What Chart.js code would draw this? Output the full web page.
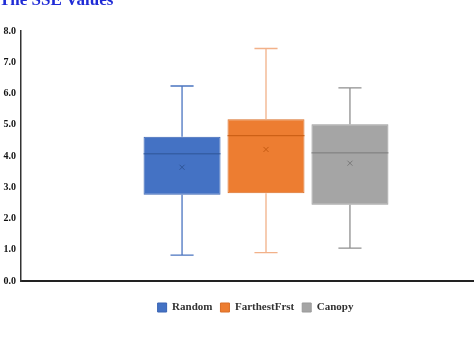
<!DOCTYPE html>
<html>
<head>
<meta charset="utf-8">
<script src="https://cdn.jsdelivr.net/npm/chart.js@4/dist/chart.umd.min.js"></script>
<style>
  html, body { margin:0; padding:0; background:#fff; overflow:hidden; width:474px; height:339px; }
  #wrap { position:absolute; left:0; top:0; width:519px; height:339px; }
  #title { position:absolute; left:-1px; top:-9px; font:bold 17px 'Liberation Serif', serif; color:#1f2bd6; line-height:17px; white-space:nowrap; }
</style>
</head>
<body>
<div id="wrap"><canvas id="chart"></canvas></div>
<div id="title">The SSE Values</div>
<script>
// box plot values
const categories = ['Random', 'FarthestFrst', 'Canopy'];
const mins    = [0.83, 0.91, 1.05];
const q1s     = [2.76, 2.81, 2.44];
const medians = [4.07, 4.65, 4.10];
const q3s     = [4.62, 5.18, 5.02];
const maxs    = [6.24, 7.44, 6.18];
const means   = [3.64, 4.21, 3.77];

const fills    = ['#4472c4', '#ed7d31', '#a5a5a5'];
const borders  = ['#3a64b4', '#d96f28', '#999999'];
const whiskers = ['#4a74c0', '#f2b189', '#8f8f8f'];
const medCols  = ['#2f5597', '#c55a11', '#7a7a7a'];

// whiskers, medians and mean markers
const boxPlugin = {
  id: 'boxParts',
  afterDatasetsDraw(chart){
    const ctx = chart.ctx;
    const y = chart.scales.y;
    chart.data.datasets.forEach((ds, i)=>{
      const bar = chart.getDatasetMeta(i).data[0];
      if(!bar) return;
      const x = bar.x, w = bar.width;
      const cap = w * 0.15;
      ctx.save();
      ctx.lineWidth = 1.3;
      ctx.strokeStyle = whiskers[i];
      ctx.beginPath();
      ctx.moveTo(x, y.getPixelForValue(q3s[i])); ctx.lineTo(x, y.getPixelForValue(maxs[i]));
      ctx.moveTo(x, y.getPixelForValue(q1s[i])); ctx.lineTo(x, y.getPixelForValue(mins[i]));
      ctx.moveTo(x - cap, y.getPixelForValue(maxs[i])); ctx.lineTo(x + cap, y.getPixelForValue(maxs[i]));
      ctx.moveTo(x - cap, y.getPixelForValue(mins[i])); ctx.lineTo(x + cap, y.getPixelForValue(mins[i]));
      ctx.stroke();
      ctx.strokeStyle = medCols[i];
      ctx.lineWidth = 1;
      ctx.beginPath();
      const ym = y.getPixelForValue(medians[i]);
      ctx.moveTo(x - w/2, ym); ctx.lineTo(x + w/2, ym);
      ctx.stroke();
      const yv = y.getPixelForValue(means[i]), s = 2.5;
      ctx.beginPath();
      ctx.moveTo(x - s, yv - s); ctx.lineTo(x + s, yv + s);
      ctx.moveTo(x + s, yv - s); ctx.lineTo(x - s, yv + s);
      ctx.stroke();
      ctx.restore();
    });
  }
};

const datasets = categories.map((c, i)=>({
  label: c,
  data: [[q1s[i], q3s[i]]],
  backgroundColor: fills[i],
  borderColor: borders[i],
  borderWidth: 1,
  borderSkipped: false,
  barPercentage: 0.917,
  categoryPercentage: 0.514
}));

new Chart(document.getElementById('chart'), {
  type: 'bar',
  data: { labels: [''], datasets },
  options: {
    responsive: true,
    maintainAspectRatio: false,
    animation: false,
    events: [],
    layout: { padding: { top: 31, right: 8, bottom: 16, left: 0 } },
    scales: {
      x: {
        afterFit(scale){ scale.height = 13; },
        grid: { display: false, drawTicks: false },
        ticks: { display: false },
        border: { display: true, color: '#222', width: 2 }
      },
      y: {
        min: 0, max: 8,
        afterFit(scale){ scale.width = 21; },
        grid: { display: false, drawTicks: false },
        border: { display: true, color: '#333', width: 1.5 },
        ticks: {
          stepSize: 1, padding: 5, color: '#111',
          font: { family: "'Liberation Serif', serif", size: 10, weight: 'bold' },
          callback: v => v.toFixed(1)
        }
      }
    },
    plugins: {
      legend: {
        position: 'bottom',
        labels: {
          boxWidth: 9, boxHeight: 9, padding: 8, color: '#333',
          font: { family: "'Liberation Serif', serif", size: 11, weight: 'bold' }
        }
      },
      tooltip: { enabled: false }
    }
  },
  plugins: [boxPlugin]
});
</script>
</body>
</html>
